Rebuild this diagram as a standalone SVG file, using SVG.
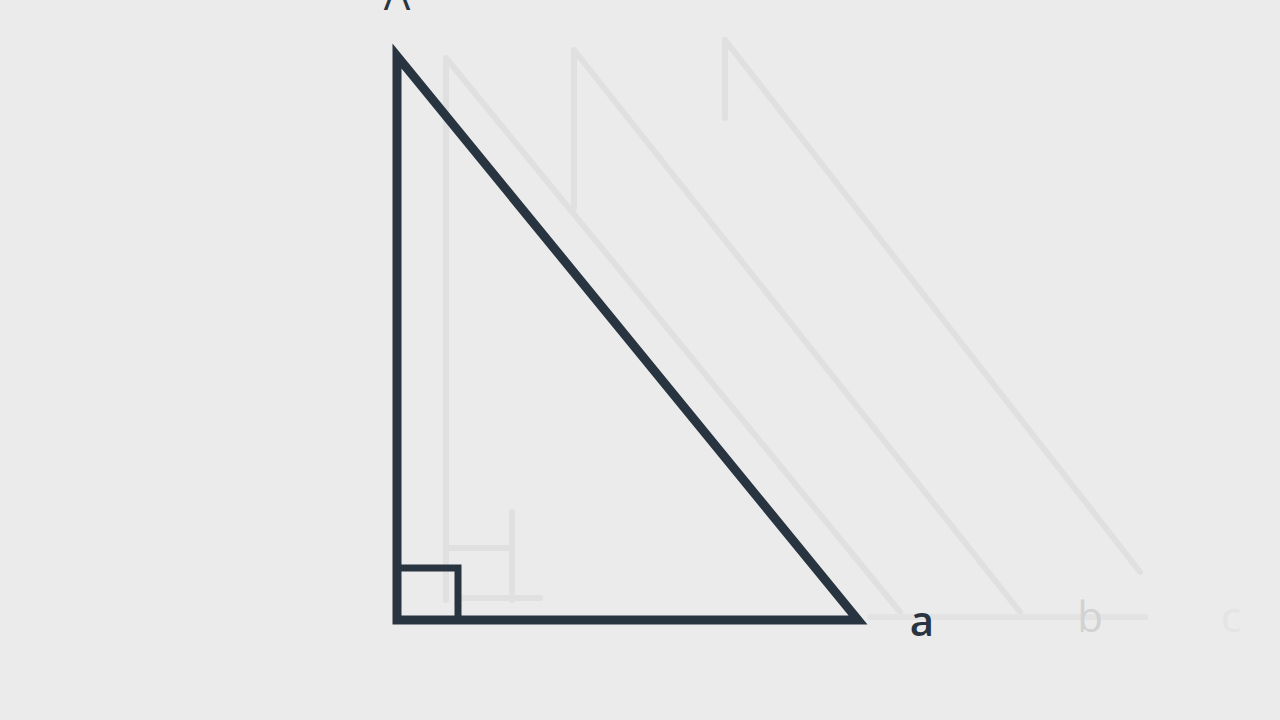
<svg xmlns="http://www.w3.org/2000/svg" width="1280" height="720" viewBox="0 0 1280 720">
<style>
.ghost{fill:none;stroke:#e0e0e0;stroke-width:6;stroke-linecap:round;stroke-linejoin:miter}
.main{fill:none;stroke:#283540;stroke-width:9;stroke-linejoin:miter}
.lbl{font-family:"Open Sans","Liberation Sans",sans-serif;font-size:42px}
</style>
<rect width="1280" height="720" fill="#ebebeb"/>
<g id="ghosts">
<path class="ghost" d="M446 58 L446 600 M446 58 L900 612"/>
<path class="ghost" d="M446 548 L512 548 M512 512 L512 600 M462 598 L540 598"/>
<path class="ghost" d="M574 50 L574 208 M574 50 L1020 612"/>
<path class="ghost" d="M725 40 L725 118 M725 40 L1140 572"/>
<path class="ghost" d="M870 617 L1145 617" style="stroke:#e3e3e3"/>
</g>
<g id="triangle">
<path class="main" d="M397 56 L397 620 L858 620 Z"/>
<path class="main" d="M397 568 L458 568 L458 620" style="stroke-width:7"/>
</g>
<g id="labels">
<text class="lbl" x="397" y="10" fill="#283540" text-anchor="middle">A</text>
<text class="lbl" x="922" y="636" fill="#283540" text-anchor="middle" font-weight="600">a</text>
<text class="lbl" x="1090" y="632" fill="#d2d2d2" text-anchor="middle">b</text>
<text class="lbl" x="1231" y="632" fill="#e4e4e4" text-anchor="middle">c</text>
</g>
</svg>
